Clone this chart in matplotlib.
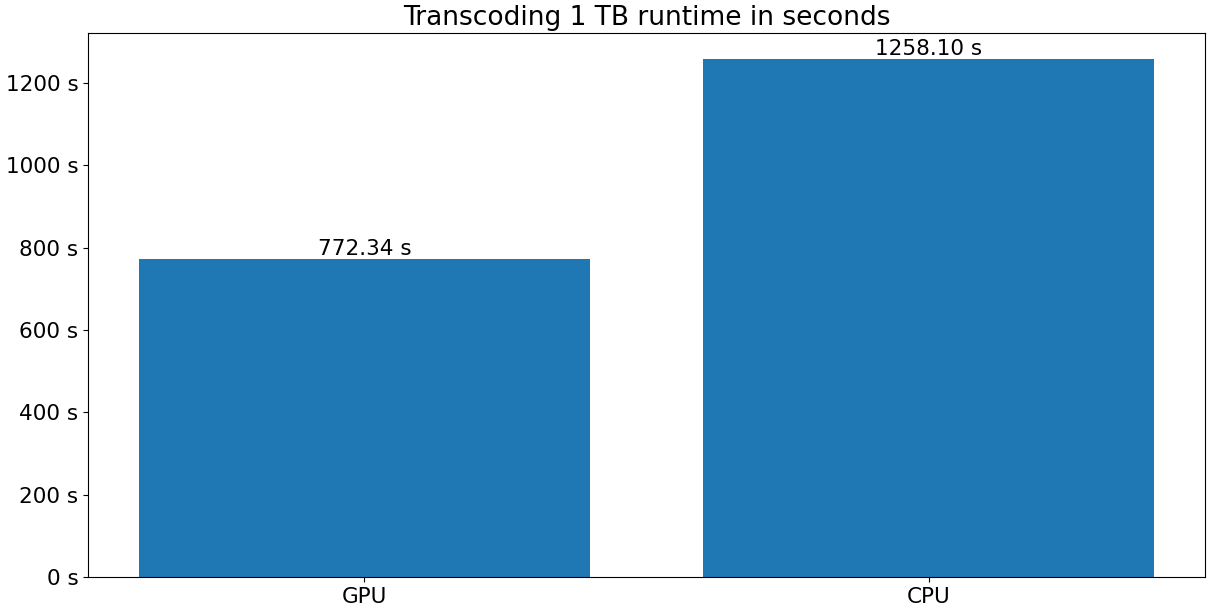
import matplotlib
matplotlib.use("Agg")
import matplotlib.pyplot as plt
from matplotlib.ticker import FuncFormatter

devices = ["GPU", "CPU"]
runtimes = [772.34, 1258.10]

fig = plt.figure(figsize=(12.12, 6.11), dpi=100)
ax = fig.add_axes([88 / 1212, 1 - 577 / 611, (1205 - 88) / 1212, (577 - 33) / 611])

bars = ax.bar(devices, runtimes, color="#1f77b4")
ax.bar_label(bars, labels=[f"{v:.2f} s" for v in runtimes], fontsize=15.5)

ax.yaxis.set_major_formatter(FuncFormatter(lambda v, p: f"{v:.0f} s"))
ax.tick_params(labelsize=15.5)
ax.set_title("Transcoding 1 TB runtime in seconds", fontsize=19)

fig.savefig("out.png", dpi=100)
